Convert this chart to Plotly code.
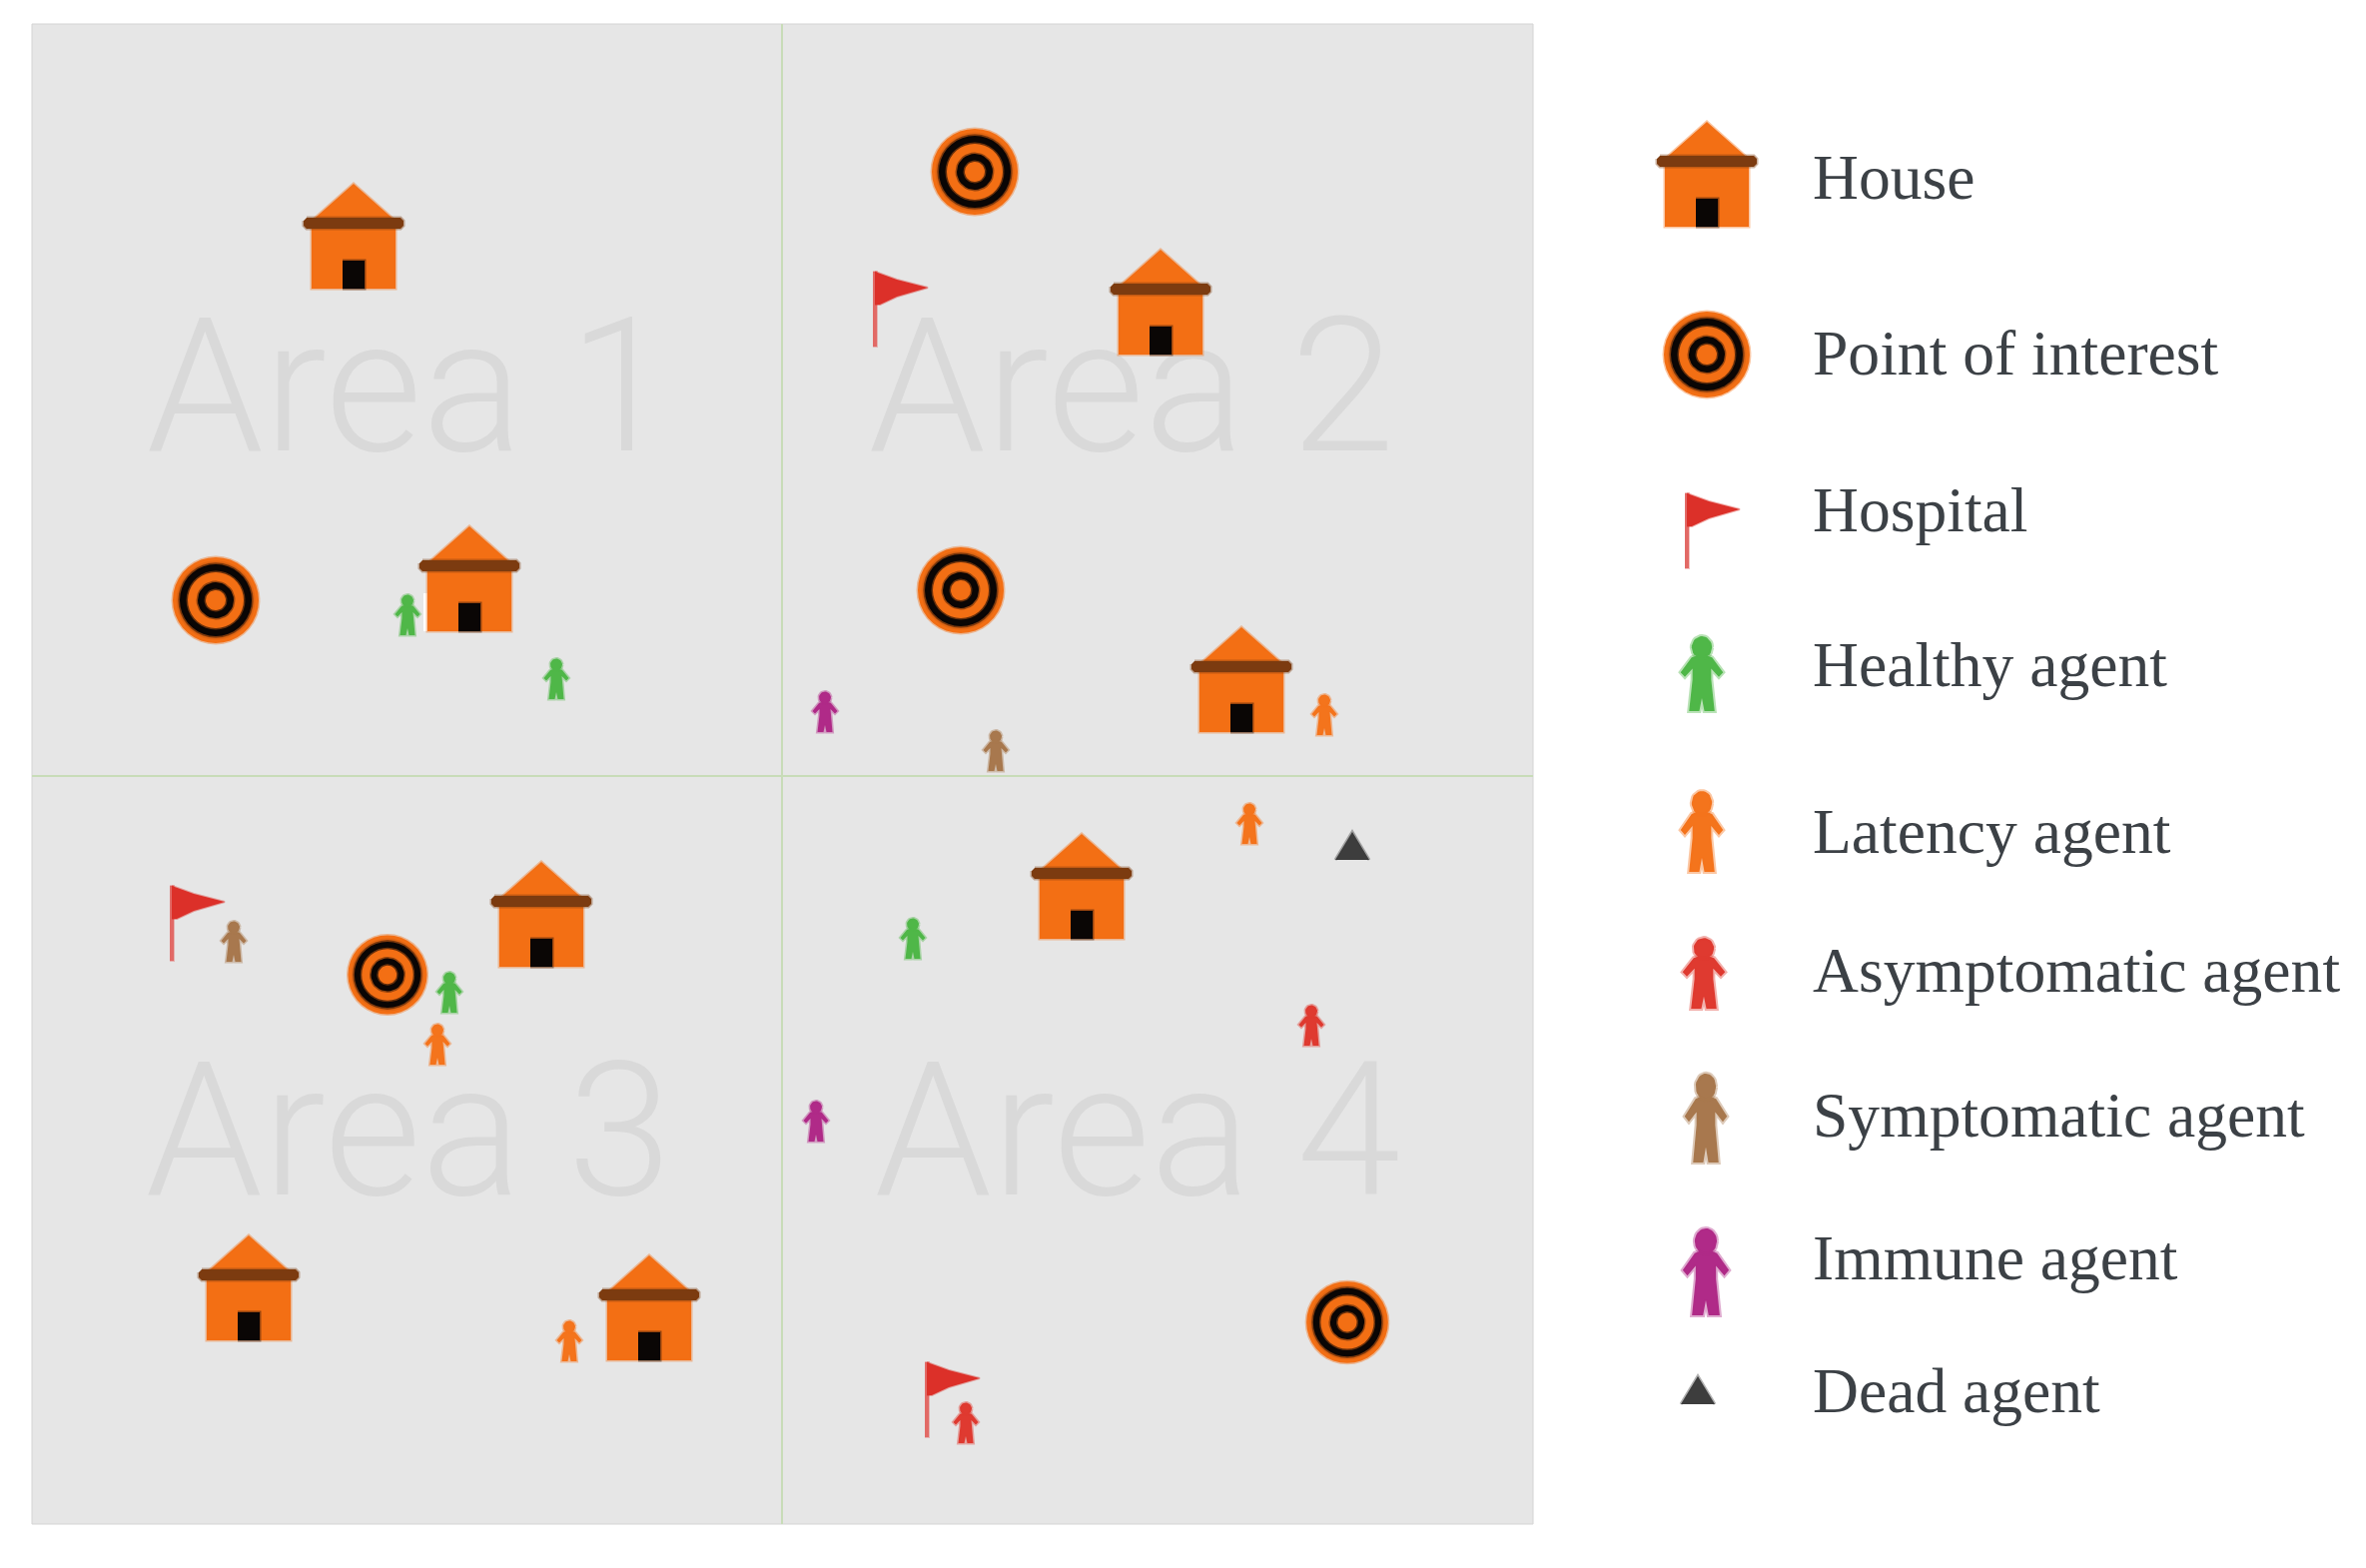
#!/usr/bin/env python3
"""Four-area map of an epidemic agent simulation, with its symbol key."""

import numpy as np
import plotly.graph_objects as go

# map contents in image pixels (x, y from top left)
area_labels = ["Area 1", "Area 2", "Area 3", "Area 4"]
area_x = [410, 1133, 409, 1139]
area_y = [404, 404, 1149, 1149]

house_x = [354, 470, 1162, 1243, 542, 1083, 249, 650]
house_y = [289, 632, 355, 733, 968, 940, 1342, 1362]

poi_x = [216, 976, 962, 388, 1349]
poi_y = [601, 172, 591, 976, 1324]
poi_scale = [1.0, 1.0, 1.0, 0.92, 0.95]

hospital_x = [876, 172, 928]
hospital_y = [272, 887, 1364]

healthy_x = [408, 557, 450, 914]
healthy_y = [616, 680, 994, 940]
latency_x = [1326, 1251, 438, 570]
latency_y = [716, 825, 1046, 1343]
asymptomatic_x = [1313, 967]
asymptomatic_y = [1027, 1425]
symptomatic_x = [997, 234]
symptomatic_y = [752, 943]
immune_x = [826, 817]
immune_y = [713, 1123]
dead_x = [1354]
dead_y = [848]

# key on the right
legend_labels = ["House", "Point of interest", "Hospital", "Healthy agent", "Latency agent",
                 "Asymptomatic agent", "Symptomatic agent", "Immune agent", "Dead agent"]
legend_label_y = [183, 359, 516, 671, 838, 977, 1122, 1265, 1398]

ORANGE = "#f36f14"
EAVE = "#7c3b10"
BLACK = "#0a0605"
FLAG = "#dc3029"
POLE = "#e26a66"
LABEL = "#3c4146"
PANEL = "#e6e6e6"
GRID = "#c8dcb8"
AGENT_COLORS = {
    "healthy": "#4fb748",
    "latency": "#f4741c",
    "asymptomatic": "#df3a30",
    "symptomatic": "#a8784e",
    "immune": "#b02a88",
}

# glyph outlines, relative to the anchor of each symbol
WALLS = [(-42, -62), (-42, 0), (42, 0), (42, -62)]
ROOF = [(-44, -66), (0, -105), (44, -66)]
BAND = [(-47, -71), (47, -71), (50, -68), (50, -63), (47, -60), (-47, -60), (-50, -63), (-50, -68)]
DOOR = [(-11, -28), (11, -28), (11, 0), (-11, 0)]
FLAG_CLOTH = [(0, 0), (22, 8), (53, 16), (22, 25), (5, 33), (0, 33)]
FLAG_POLE = [(-2, 0), (2, 0), (2, 75), (-2, 75)]
AGENT_BODY = [(-3, -10), (-6, -9), (-12.5, -1), (-10, 1.5), (-5.5, -3), (-5.5, 3), (-7.5, 20), (-1.5, 20),
              (0, 13), (1.5, 20), (7.5, 20), (5.5, 3), (5.5, -3), (10, 1.5), (12.5, -1), (6, -9), (3, -10)]
TRIANGLE = [(-17, 13), (0, -15), (17, 13)]
theta = np.linspace(0, 2 * np.pi, 37)


def circle(radius, cy=0):
    return list(zip(radius * np.cos(theta), cy + radius * np.sin(theta)))


def stamp(outline, xs, ys, sx=None, sy=None):
    """Repeat an outline at every anchor, gaps between copies."""
    px, py = [], []
    for i, (x0, y0) in enumerate(zip(xs, ys)):
        kx = sx[i] if sx else 1
        ky = sy[i] if sy else kx
        for dx, dy in outline:
            px.append(x0 + kx * dx)
            py.append(y0 + ky * dy)
        px.append(None)
        py.append(None)
    return px, py


def soft(color, alpha=0.4):
    r, g, b = (int(color[i:i + 2], 16) for i in (1, 3, 5))
    return f"rgba({r},{g},{b},{alpha})"


fig = go.Figure()


def add_fill(outline, xs, ys, color, sx=None, sy=None, edge=3):
    # translucent stroke stands in for the soft edges of the original
    px, py = stamp(outline, xs, ys, sx, sy)
    fig.add_trace(go.Scatter(x=px, y=py, mode="lines", fill="toself", fillcolor=color,
                             line=dict(width=edge, color=soft(color)), hoverinfo="skip", showlegend=False))


def add_house(xs, ys):
    add_fill(WALLS, xs, ys, ORANGE)
    add_fill(ROOF, xs, ys, ORANGE)
    add_fill(BAND, xs, ys, EAVE)
    add_fill(DOOR, xs, ys, BLACK)


def add_poi(xs, ys, scale):
    for radius, color in [(43, ORANGE), (38, "#c75a12"), (36, BLACK), (28, ORANGE), (18, BLACK), (10, ORANGE)]:
        add_fill(circle(radius), xs, ys, color, sx=scale)


def add_flag(xs, ys):
    add_fill(FLAG_POLE, xs, ys, POLE, edge=2)
    add_fill(FLAG_CLOTH, xs, ys, FLAG, edge=2)


def add_agent(xs, ys, color, sx=None, sy=None, edge=3):
    add_fill(AGENT_BODY, xs, ys, color, sx, sy, edge)
    add_fill(circle(6, -14.5), xs, ys, color, sx, sy, edge)


# area names sit under all the symbols
fig.add_trace(go.Scatter(x=area_x, y=area_y, mode="text", text=area_labels, textposition="middle center",
                         textfont=dict(family="Roboto", size=188, color="#d9d9d9", weight=300),
                         hoverinfo="skip", showlegend=False))

add_house(house_x, house_y)
add_poi(poi_x, poi_y, poi_scale)
add_flag(hospital_x, hospital_y)
add_agent(healthy_x, healthy_y, AGENT_COLORS["healthy"])
add_agent(latency_x, latency_y, AGENT_COLORS["latency"])
add_agent(asymptomatic_x, asymptomatic_y, AGENT_COLORS["asymptomatic"])
add_agent(symptomatic_x, symptomatic_y, AGENT_COLORS["symptomatic"])
add_agent(immune_x, immune_y, AGENT_COLORS["immune"])
add_fill(TRIANGLE, dead_x, dead_y, "#3d3d3d")

# key symbols
add_house([1709], [227])
add_poi([1709], [355], [1.0])
add_flag([1689], [494])
add_agent([1704], [675], AGENT_COLORS["healthy"], [1.7], [1.85], 4)
add_agent([1704], [833], AGENT_COLORS["latency"], [1.7], [2.0], 4)
add_agent([1706], [975], AGENT_COLORS["asymptomatic"], [1.7], [1.75], 4)
add_agent([1708], [1120], AGENT_COLORS["symptomatic"], [1.7], [2.2], 4)
add_agent([1708], [1274], AGENT_COLORS["immune"], [1.85], [2.15], 4)
add_fill(TRIANGLE, [1700], [1393], "#3d3d3d")

fig.add_trace(go.Scatter(x=[1815] * len(legend_labels), y=legend_label_y, mode="text", text=legend_labels,
                         textposition="middle right",
                         textfont=dict(family="Liberation Serif", size=63.6, color=LABEL),
                         hoverinfo="skip", showlegend=False))

# panel and the two dividing lines
fig.add_shape(type="rect", x0=32, x1=1535, y0=24, y1=1526, layer="below",
              fillcolor=PANEL, line=dict(color="#d4d4d4", width=1))
fig.add_shape(type="line", x0=783, x1=783, y0=24, y1=1526, layer="below", line=dict(color=GRID, width=2))
fig.add_shape(type="line", x0=32, x1=1535, y0=777, y1=777, layer="below", line=dict(color=GRID, width=2))
# white sliver beside the second house
fig.add_shape(type="rect", x0=424, x1=430, y0=594, y1=632, layer="below", fillcolor="white", line=dict(width=0))

# the page keeps an 8px body margin, so the axes start at 8 to stay in image pixels
fig.update_xaxes(range=[8, 2369], visible=False, fixedrange=True)
fig.update_yaxes(range=[1570, 8], visible=False, fixedrange=True)
fig.update_layout(width=2361, height=1562, margin=dict(l=0, r=0, t=0, b=0),
                  paper_bgcolor="white", plot_bgcolor="white", showlegend=False)

fig.write_html("out.html", config={"displayModeBar": False})
